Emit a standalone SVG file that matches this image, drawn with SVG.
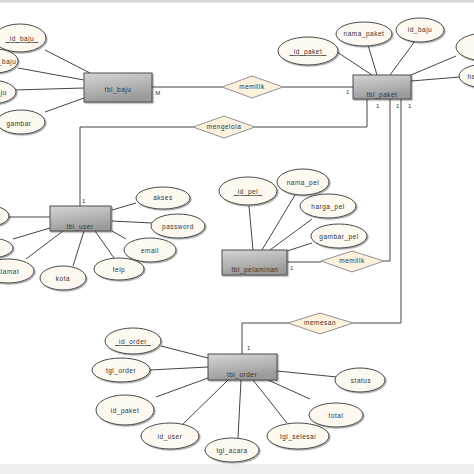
<svg xmlns="http://www.w3.org/2000/svg" width="474" height="474" viewBox="0 0 474 474">
<defs>
<linearGradient id="ent" x1="0" y1="0" x2="0.3" y2="1">
<stop offset="0" stop-color="#d6d6d6"/>
<stop offset="1" stop-color="#9a9a9a"/>
</linearGradient>
<filter id="sh" x="-20%" y="-20%" width="150%" height="150%">
<feDropShadow dx="1.2" dy="1.2" stdDeviation="0.6" flood-color="#000" flood-opacity="0.35"/>
</filter>
<style>
.a{fill:#fdf9f0;stroke:#4a4a4a;stroke-width:1;filter:url(#sh)}
.e{fill:url(#ent);stroke:#4a4a4a;stroke-width:1;filter:url(#sh)}
.r{fill:#fbf1dd;stroke:#777;stroke-width:0.8}
.c line,.c polyline{stroke:#444;stroke-width:1;fill:none}
text{font-family:"Liberation Sans",Arial,sans-serif;font-size:6.5px;fill:#333;text-anchor:middle;letter-spacing:0.5px}
.u{text-decoration:underline}
.m{font-size:6px}
</style>
</defs>
<rect x="0" y="0" width="474" height="474" fill="#fff"/>
<rect x="0" y="0" width="474" height="2.5" fill="#d8d8d8"/>
<rect x="0" y="464" width="474" height="10" fill="#eeeeee"/>

<g id="connectors" class="c">
<line x1="45" y1="50" x2="90" y2="73"/>
<line x1="18" y1="68" x2="84" y2="80"/>
<line x1="14" y1="90" x2="84" y2="88"/>
<line x1="45" y1="112" x2="84" y2="98"/>
<line x1="152" y1="87" x2="222" y2="87"/>
<line x1="283" y1="87" x2="353" y2="87"/>
<polyline points="193,127 80,127 80,206"/>
<polyline points="255,127 367,127 367,99"/>
<polyline points="390,99 390,261 384,261"/>
<polyline points="401,99 401,323 353,323"/>
<line x1="287" y1="262" x2="321" y2="262"/>
<polyline points="288,323 242,323 242,354"/>
<line x1="337" y1="52" x2="372" y2="75"/>
<line x1="368" y1="45" x2="377" y2="75"/>
<line x1="415" y1="41" x2="390" y2="75"/>
<line x1="456" y1="56" x2="411" y2="75"/>
<line x1="460" y1="77" x2="411" y2="81"/>
<line x1="249" y1="206" x2="253" y2="250"/>
<line x1="295" y1="195" x2="262" y2="250"/>
<line x1="312" y1="219" x2="270" y2="250"/>
<line x1="312" y1="243" x2="287" y2="251"/>
<line x1="136" y1="203" x2="112" y2="210"/>
<line x1="152" y1="223" x2="112" y2="221"/>
<line x1="126" y1="239" x2="112" y2="231"/>
<line x1="114" y1="258" x2="95" y2="231"/>
<line x1="73" y1="266" x2="84" y2="231"/>
<line x1="26" y1="259" x2="63" y2="231"/>
<line x1="13" y1="239" x2="50" y2="228"/>
<line x1="9" y1="217" x2="50" y2="217"/>
<line x1="161" y1="346" x2="208" y2="358"/>
<line x1="150" y1="370" x2="208" y2="367"/>
<line x1="156" y1="397" x2="208" y2="378"/>
<line x1="180" y1="427" x2="228" y2="380"/>
<line x1="238" y1="438" x2="241" y2="380"/>
<line x1="287" y1="423" x2="253" y2="380"/>
<line x1="310" y1="399" x2="268" y2="380"/>
<line x1="337" y1="377" x2="277" y2="371"/>
</g>

<g id="tbl_baju"><rect class="e" x="84" y="73" width="68" height="29"/><text x="118" y="92">tbl_baju</text><text class="m" x="158" y="95">M</text></g>
<g id="tbl_paket"><rect class="e" x="353" y="75" width="58" height="24"/><text x="382" y="97">tbl_paket</text><text class="m" x="348" y="94">1</text><text class="m" x="378" y="108">1</text><text class="m" x="398" y="108">1</text><text class="m" x="410" y="108">1</text></g>
<g id="tbl_user"><rect class="e" x="50" y="206" width="61" height="25"/><text x="80" y="229">tbl_user</text><text class="m" x="84" y="203">1</text></g>
<g id="tbl_pelaminan"><rect class="e" x="222" y="250" width="65" height="25"/><text x="255" y="272">tbl_pelaminan</text><text class="m" x="292" y="270">1</text></g>
<g id="tbl_order"><rect class="e" x="208" y="354" width="69" height="26"/><text x="242" y="377">tbl_order</text><text class="m" x="249" y="350">1</text></g>

<g id="memilik1"><polygon class="r" points="222,87 252,76 283,87 252,98"/><text x="252" y="89">memilik</text></g>
<g id="mengelola"><polygon class="r" points="193,127 224,116 255,127 224,138"/><text x="224" y="129">mengelola</text></g>
<g id="memilik2"><polygon class="r" points="321,261 352,251 384,261 352,272"/><text x="352" y="263">memilik</text></g>
<g id="memesan"><polygon class="r" points="288,323 320,313 353,323 320,334"/><text x="320" y="325">memesan</text></g>

<g id="a_id_baju"><ellipse class="a" cx="20" cy="38" rx="26" ry="14"/><text class="u" x="22" y="41">_id_baju_</text></g>
<g id="a_nama_baju"><ellipse class="a" cx="-5" cy="61" rx="23" ry="12"/><text x="-2" y="64">nama_baju</text></g>
<g id="a_harga_baju"><ellipse class="a" cx="-10" cy="92" rx="26" ry="12"/><text x="-12" y="95">harga_baju</text></g>
<g id="a_gambar"><ellipse class="a" cx="21" cy="122" rx="24" ry="12"/><text x="19" y="126">gambar</text></g>

<g id="a_id_paket"><ellipse class="a" cx="308" cy="51" rx="30" ry="14"/><text class="u" x="308" y="54">_id_paket_</text></g>
<g id="a_nama_paket"><ellipse class="a" cx="364" cy="34" rx="28" ry="12"/><text x="364" y="36">nama_paket</text></g>
<g id="a_id_baju2"><ellipse class="a" cx="420" cy="30" rx="24" ry="12"/><text x="420" y="32">id_baju</text></g>
<g id="a_paket_x"><ellipse class="a" cx="486" cy="47" rx="30" ry="14"/></g>
<g id="a_harga"><ellipse class="a" cx="486" cy="76" rx="27" ry="12"/><text x="477" y="79">harga</text></g>

<g id="a_akses"><ellipse class="a" cx="163" cy="198" rx="27" ry="11"/><text x="163" y="200">akses</text></g>
<g id="a_password"><ellipse class="a" cx="178" cy="226" rx="27" ry="12"/><text x="178" y="229">password</text></g>
<g id="a_email"><ellipse class="a" cx="150" cy="250" rx="26" ry="12"/><text x="150" y="253">email</text></g>
<g id="a_telp"><ellipse class="a" cx="119" cy="269" rx="25" ry="11"/><text x="119" y="272">telp</text></g>
<g id="a_kota"><ellipse class="a" cx="63" cy="278" rx="23" ry="12"/><text x="63" y="281">kota</text></g>
<g id="a_alamat"><ellipse class="a" cx="8" cy="271" rx="26" ry="12"/><text x="8" y="274">alamat</text></g>
<g id="a_user2"><ellipse class="a" cx="-10" cy="248" rx="23" ry="10"/></g>
<g id="a_user1"><ellipse class="a" cx="-15" cy="216" rx="24" ry="11"/></g>

<g id="a_id_pel"><ellipse class="a" cx="248" cy="191" rx="29" ry="14"/><text class="u" x="248" y="194">_id_pel_</text></g>
<g id="a_nama_pel"><ellipse class="a" cx="303" cy="182" rx="26" ry="13"/><text x="303" y="185">nama_pel</text></g>
<g id="a_harga_pel"><ellipse class="a" cx="328" cy="206" rx="28" ry="12"/><text x="328" y="209">harga_pel</text></g>
<g id="a_gambar_pel"><ellipse class="a" cx="339" cy="236" rx="28" ry="12"/><text x="339" y="239">gambar_pel</text></g>

<g id="a_id_order"><ellipse class="a" cx="133" cy="341" rx="28" ry="13"/><text class="u" x="133" y="344">_id_order_</text></g>
<g id="a_tgl_order"><ellipse class="a" cx="121" cy="370" rx="29" ry="12"/><text x="121" y="373">tgl_order</text></g>
<g id="a_id_paket2"><ellipse class="a" cx="125" cy="410" rx="29" ry="15"/><text x="125" y="413">id_paket</text></g>
<g id="a_id_user"><ellipse class="a" cx="170" cy="436" rx="29" ry="13"/><text x="170" y="439">id_user</text></g>
<g id="a_tgl_acara"><ellipse class="a" cx="232" cy="450" rx="27" ry="12"/><text x="232" y="453">tgl_acara</text></g>
<g id="a_tgl_selesai"><ellipse class="a" cx="298" cy="436" rx="31" ry="13"/><text x="298" y="439">tgl_selesai</text></g>
<g id="a_total"><ellipse class="a" cx="336" cy="415" rx="27" ry="12"/><text x="336" y="418">total</text></g>
<g id="a_status"><ellipse class="a" cx="360" cy="380" rx="25" ry="12"/><text x="361" y="383">status</text></g>
</svg>
